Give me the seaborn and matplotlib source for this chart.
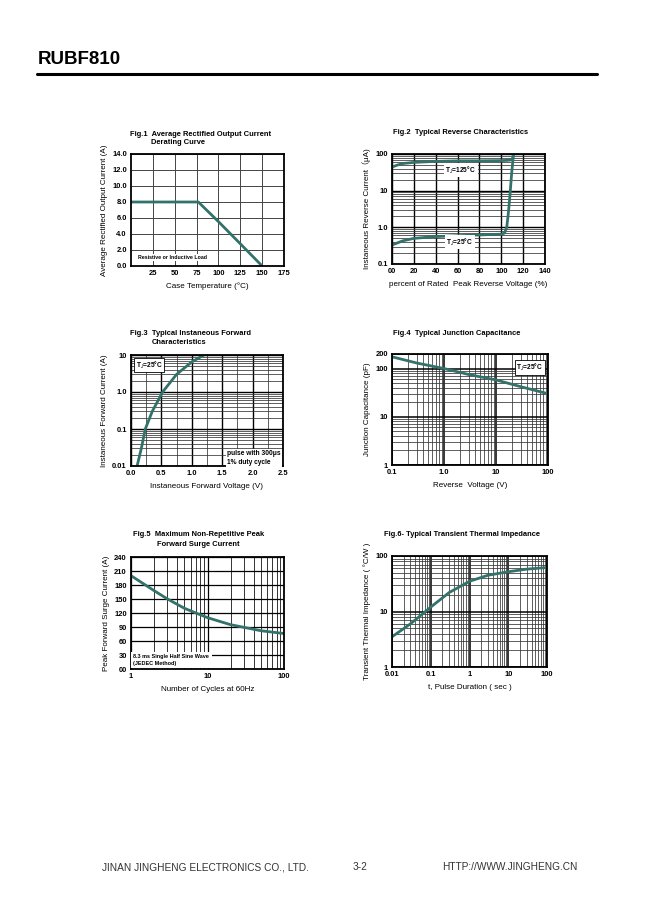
import numpy as np
import pandas as pd
import matplotlib.pyplot as plt
import matplotlib.ticker as mticker
from matplotlib.lines import Line2D
import seaborn as sns

sns.set_style('white')
plt.rcParams['font.family'] = ['Liberation Sans', 'Noto Sans CJK SC', 'DejaVu Sans']
plt.rcParams['mathtext.fontset'] = 'custom'
plt.rcParams['mathtext.rm'] = 'Liberation Sans'
plt.rcParams['mathtext.bf'] = 'Liberation Sans:bold'
plt.rcParams['mathtext.it'] = 'Liberation Sans:italic'
plt.rcParams['text.color'] = 'black'
plt.rcParams['axes.labelcolor'] = 'black'
plt.rcParams['xtick.color'] = 'black'
plt.rcParams['ytick.color'] = 'black'

# ---- data ----
# Fig.1 derating curve
derate_temp = [0, 25, 50, 77, 100, 125, 150]
derate_curr = [8.0, 8.0, 8.0, 8.0, 5.55, 2.78, 0.0]

# Fig.2 reverse characteristics
rev_pct_125 = [0, 5, 10, 20, 40, 60, 80, 100, 105, 108, 110.2, 111.2]
rev_ua_125 = [44, 50, 55, 59, 63, 65, 65, 66, 67, 68, 72, 100]
rev_pct_25 = [0, 10, 20, 40, 60, 80, 100, 103, 105, 106.5, 108, 109.5, 111.2]
rev_ua_25 = [0.33, 0.43, 0.5, 0.56, 0.59, 0.62, 0.65, 0.7, 1.0, 2.5, 8, 30, 100]

# Fig.3 forward characteristics
fwd_v = [0.1, 0.17, 0.235, 0.35, 0.52, 0.75, 1.0, 1.2]
fwd_a = [0.01, 0.03, 0.1, 0.3, 1.0, 3.0, 6.5, 10]

# Fig.4 junction capacitance
cap_v = [0.1, 0.3, 1, 3, 10, 30, 100]
cap_pf = [175, 130, 100, 75, 58, 42, 30]

# Fig.5 surge current
surge_cycles = [1, 2, 3, 5, 10, 20, 50, 100]
surge_amp = [200, 168, 150, 130, 110, 95, 82, 76]

# Fig.6 transient thermal impedance
zth_t = [0.01, 0.03, 0.1, 0.3, 1, 3, 10, 30, 100]
zth_val = [3.5, 6, 12, 22, 35, 45, 52, 58, 62]

W, H = 650, 919
fig = plt.figure(figsize=(6.5, 9.19), dpi=100)
TEAL = '#33726b'
TFS = 5.4   # tick font size
LFS = 5.8   # axis label font size


def add_ax(l, r, t, b):
    return fig.add_axes([l / W, 1 - b / H, (r - l) / W, (b - t) / H])


def ftext(x, y, s, **kw):
    fig.text(x / W, 1 - y / H, s, **kw)


def style(ax, xlabel, ylabel):
    for sp in ax.spines.values():
        sp.set_linewidth(1.3)
        sp.set_color('black')
    ax.tick_params(which='both', length=0, pad=3, labelsize=TFS)
    for lab in ax.get_xticklabels() + ax.get_yticklabels():
        lab.set_fontweight('bold')
    ax.set_xlabel(xlabel, fontsize=LFS, labelpad=4)
    ax.set_ylabel(ylabel, fontsize=LFS, labelpad=3)
    ax.set_axisbelow(True)


def logminor(axis):
    axis.set_minor_locator(mticker.LogLocator(base=10, subs=np.arange(2, 10), numticks=20))
    axis.set_minor_formatter(mticker.NullFormatter())


box_plain = dict(boxstyle='square,pad=0.2', fc='white', ec='none')
box_edge = dict(boxstyle='square,pad=0.25', fc='white', ec='black', lw=0.6)

# header / footer
ftext(38, 59, 'RUBF810', fontsize=13.5, fontweight='bold', va='center', ha='left')
fig.add_artist(Line2D([37 / W, 597 / W], [1 - 74 / H, 1 - 74 / H], color='black', lw=2.2))
ftext(102, 867, 'JINAN JINGHENG ELECTRONICS CO., LTD.', fontsize=7.3, color='#333333', va='center')
ftext(360, 867, '3-2', fontsize=7.3, color='#333333', va='center', ha='center')
ftext(442, 867, 'HTTP://WWW.JINGHENG.CN', fontsize=7.3, color='#333333', va='center')

# ---------------- Fig.1 ----------------
ax1 = add_ax(131, 284, 154, 266)
sns.lineplot(x=derate_temp, y=derate_curr, ax=ax1, color=TEAL, lw=2.0)
ax1.set_xlim(0, 175)
ax1.set_ylim(0, 14)
ax1.set_xticks([25, 50, 75, 100, 125, 150, 175])
ax1.set_yticks(np.arange(0, 15, 2))
ax1.yaxis.set_major_formatter(mticker.FormatStrFormatter('%.1f'))
ax1.grid(True, color='#444444', lw=0.7)
style(ax1, 'Case Temperature (°C)', 'Average Rectified Output Current (A)')
ax1.text(8, 1.05, 'Resistive or Inductive Load', fontsize=3.8, fontweight='bold', va='center', bbox=box_plain)
ftext(130, 134, 'Fig.1  Average Rectified Output Current', fontsize=TFS, fontweight='bold', va='center')
ftext(151, 142, 'Derating Curve', fontsize=TFS, fontweight='bold', va='center')

# ---------------- Fig.2 ----------------
ax2 = add_ax(392, 545, 154, 264)
ax2.set_yscale('log')
sns.lineplot(x=rev_pct_125, y=rev_ua_125, ax=ax2, color=TEAL, lw=2.0)
sns.lineplot(x=rev_pct_25, y=rev_ua_25, ax=ax2, color=TEAL, lw=2.0)
ax2.set_xlim(0, 140)
ax2.set_ylim(0.1, 100)
ax2.set_xticks(np.arange(0, 141, 20))
ax2.set_xticklabels(['00', '20', '40', '60', '80', '100', '120', '140'])
ax2.set_yticks([0.1, 1, 10, 100])
ax2.set_yticklabels(['0.1', '1.0', '10', '100'])
logminor(ax2.yaxis)
ax2.grid(True, which='major', color='black', lw=1.0)
ax2.grid(True, which='minor', axis='y', color='#333333', lw=0.55)
style(ax2, 'percent of Rated  Peak Reverse Voltage (%)', 'Instaneous Reverse Current（μA)')
ax2.text(63, 36, r'T$_J$=125°C', fontsize=4.8, fontweight='bold', ha='center', va='center', bbox=box_plain)
ax2.text(62, 0.39, r'T$_J$=25°C', fontsize=4.8, fontweight='bold', ha='center', va='center', bbox=box_plain)
ftext(393, 132, 'Fig.2  Typical Reverse Characteristics', fontsize=TFS, fontweight='bold', va='center')

# ---------------- Fig.3 ----------------
ax3 = add_ax(131, 283, 355, 466)
ax3.set_yscale('log')
sns.lineplot(x=fwd_v, y=fwd_a, ax=ax3, color=TEAL, lw=2.0)
ax3.set_xlim(0, 2.5)
ax3.set_ylim(0.01, 10)
ax3.set_xticks(np.arange(0, 2.51, 0.5))
ax3.xaxis.set_major_formatter(mticker.FormatStrFormatter('%.1f'))
ax3.xaxis.set_minor_locator(mticker.MultipleLocator(0.25))
ax3.set_yticks([0.01, 0.1, 1, 10])
ax3.set_yticklabels(['0.01', '0.1', '1.0', '10'])
logminor(ax3.yaxis)
ax3.grid(True, which='major', color='black', lw=1.0)
ax3.grid(True, which='minor', color='#333333', lw=0.55)
style(ax3, 'Instaneous Forward Voltage (V)', 'Instaneous Forward Current (A)')
ax3.text(0.03, 0.96, r'T$_J$=25°C', transform=ax3.transAxes, fontsize=4.8, fontweight='bold',
         ha='left', va='top', bbox=box_edge)
ax3.text(1.58, 0.0165, 'pulse with 300μs\n1% duty cycle', fontsize=4.8, fontweight='bold',
         ha='left', va='center', linespacing=1.3, bbox=box_plain)
ftext(130, 333, 'Fig.3  Typical Instaneous Forward', fontsize=TFS, fontweight='bold', va='center')
ftext(152, 342, 'Characteristics', fontsize=TFS, fontweight='bold', va='center')

# ---------------- Fig.4 ----------------
ax4 = add_ax(392, 548, 354, 465)
ax4.set_xscale('log')
ax4.set_yscale('log')
sns.lineplot(x=cap_v, y=cap_pf, ax=ax4, color=TEAL, lw=2.0)
ax4.set_xlim(0.1, 100)
ax4.set_ylim(1, 200)
ax4.set_xticks([0.1, 1, 10, 100])
ax4.set_xticklabels(['0.1', '1.0', '10', '100'])
ax4.set_yticks([1, 10, 100, 200])
ax4.set_yticklabels(['1', '10', '100', '200'])
logminor(ax4.xaxis)
logminor(ax4.yaxis)
ax4.grid(True, which='major', color='black', lw=1.1)
ax4.grid(True, which='minor', color='#333333', lw=0.55)
style(ax4, 'Reverse  Voltage (V)', 'Junction Capacitance (pF)')
ax4.text(0.97, 0.88, r'T$_J$=25°C', transform=ax4.transAxes, fontsize=4.8, fontweight='bold',
         ha='right', va='center', bbox=box_edge)
ftext(393, 333, 'Fig.4  Typical Junction Capacitance', fontsize=TFS, fontweight='bold', va='center')

# ---------------- Fig.5 ----------------
ax5 = add_ax(131, 284, 557, 669)
ax5.set_xscale('log')
sns.lineplot(x=surge_cycles, y=surge_amp, ax=ax5, color=TEAL, lw=2.0)
ax5.set_xlim(1, 100)
ax5.set_ylim(0, 240)
ax5.set_xticks([1, 10, 100])
ax5.set_xticklabels(['1', '10', '100'])
logminor(ax5.xaxis)
ax5.set_yticks(np.arange(0, 241, 30))
ax5.set_yticklabels(['00'] + [str(v) for v in range(30, 241, 30)])
ax5.grid(True, which='major', color='black', lw=0.9)
ax5.grid(True, which='minor', axis='x', color='#333333', lw=0.7)
style(ax5, 'Number of Cycles at 60Hz', 'Peak Forward Surge Current (A)')
ax5.text(1.07, 19, '8.3 ms Single Half Sine Wave\n(JEDEC Method)', fontsize=4.0, fontweight='bold',
         ha='left', va='center', linespacing=1.4,
         bbox=dict(boxstyle='square,pad=0.45', fc='white', ec='none'))
ftext(133, 535, 'Fig.5  Maximum Non-Repetitive Peak', fontsize=TFS, fontweight='bold', va='center')
ftext(157, 544, 'Forward Surge Current', fontsize=TFS, fontweight='bold', va='center')

# ---------------- Fig.6 ----------------
ax6 = add_ax(392, 547, 556, 667)
ax6.set_xscale('log')
ax6.set_yscale('log')
sns.lineplot(x=zth_t, y=zth_val, ax=ax6, color=TEAL, lw=2.0)
ax6.set_xlim(0.01, 100)
ax6.set_ylim(1, 100)
ax6.set_xticks([0.01, 0.1, 1, 10, 100])
ax6.set_xticklabels(['0.01', '0.1', '1', '10', '100'])
ax6.set_yticks([1, 10, 100])
ax6.set_yticklabels(['1', '10', '100'])
logminor(ax6.xaxis)
logminor(ax6.yaxis)
ax6.grid(True, which='major', color='black', lw=1.1)
ax6.grid(True, which='minor', color='#333333', lw=0.55)
style(ax6, 't, Pulse Duration ( sec )', 'Transient Thermal Impedance ( °C/W )')
ftext(384, 535, 'Fig.6- Typical Transient Thermal Impedance', fontsize=TFS, fontweight='bold', va='center')

fig.savefig('out.png', dpi=100)
